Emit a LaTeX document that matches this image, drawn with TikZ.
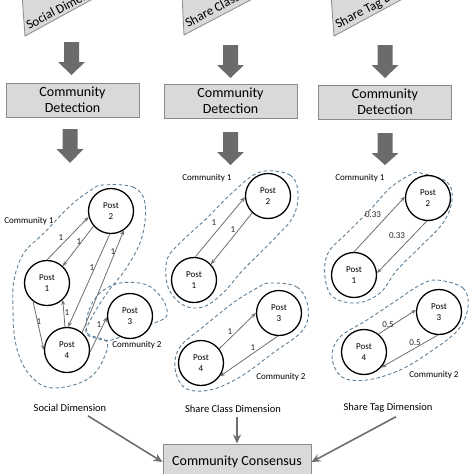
\documentclass[tikz,border=0pt]{standalone}
\usepackage{fontspec}
\setmainfont{Carlito}
\usetikzlibrary{arrows.meta}
\definecolor{boxfill}{HTML}{D9D9D9}
\definecolor{boxline}{HTML}{8A8A8A}
\definecolor{arrowgray}{HTML}{6B6B6B}
\definecolor{hullc}{HTML}{5E7E96}
\definecolor{edgec}{HTML}{6E6E6E}
\newcommand\blockarr[4]{\fill[blockarrow] (#1-7.5,#2) -- (#1+7.5,#2) -- (#1+7.5,#3) -- (#1+13.5,#3) -- (#1,#4) -- (#1-13.5,#3) -- (#1-7.5,#3) -- cycle;}
\begin{document}
\begin{tikzpicture}[x=1pt,y=-1pt,
  detbox/.style={draw=boxline, fill=boxfill, line width=1pt, minimum width=133pt, minimum height=34pt, align=center, font=\fontsize{14}{16}\selectfont, inner sep=0pt},
  post/.style={circle, draw=black, line width=1.3pt, minimum size=45pt, inner sep=0pt, align=center, font=\fontsize{9}{11}\selectfont},
  edge/.style={draw=edgec, line width=0.8pt, -{Stealth[length=5pt,width=4pt]}},
  lbl/.style={font=\fontsize{9}{10}\selectfont, inner sep=0pt, text=black!85},
  hull/.style={draw=hullc, dash pattern=on 3.5pt off 2.5pt, line width=0.9pt},
  blockarrow/.style={fill=arrowgray},
  dimlbl/.style={font=\fontsize{10.5}{12}\selectfont, inner sep=1pt},
  comlbl/.style={font=\fontsize{9}{10}\selectfont, inner sep=0pt},
  flow/.style={draw=edgec, line width=1.6pt, -{Stealth[length=9pt,width=8pt]}},
  topshape/.style={fill=boxfill, draw=boxline, line width=0.8pt},
  toptext/.style={font=\fontsize{13}{14}\selectfont, rotate=28, anchor=base west, inner sep=0pt},
]
\useasboundingbox (0,0) rectangle (474,474);
\clip (0,0) rectangle (474,474);

% top rotated shapes
\draw[topshape] (22,-5) -- (25,36) -- (100,-5) -- cycle;
\node[toptext] (t1) at (29,30) {Social Dimension};
\draw[topshape] (182,-5) -- (184,35) -- (260,-5) -- cycle;
\node[toptext] (t2) at (188,28) {Share Class Dimension};
\draw[topshape] (331,-5) -- (334,36) -- (410,-5) -- cycle;
\node[toptext] (t3) at (338,29) {Share Tag Dimension};

% block arrows
\blockarr{71.5}{42}{62}{75}
\blockarr{230.5}{45}{65}{78}
\blockarr{385}{45}{65}{78}

% community detection boxes
\node[detbox] (cd1) at (72.5,100) {Community\\Detection};
\node[detbox] (cd2) at (230.5,101) {Community\\Detection};
\node[detbox] (cd3) at (385,102) {Community\\Detection};

\blockarr{70}{129}{149}{163}
\blockarr{230.5}{132}{152}{165}
\blockarr{385}{133}{153}{165}

% hulls
\draw[hull] plot[smooth cycle, tension=0.6] coordinates {(103,185) (133,187) (145,203) (142,237) (127,267) (107,293) (92,317) (87,333) (107,342) (103,360) (93,375) (77,384) (53,388) (37,382) (23,365) (15,340) (13,310) (14,280) (24,253) (45,232) (70,206) (91,190)};
\draw[hull] plot[smooth cycle, tension=0.6] coordinates {(86,332) (89,310) (100,293) (120,283) (147,285) (163,300) (167,315) (157,322) (133,330) (112,340) (95,338)};
\draw[hull] plot[smooth cycle, tension=0.6] coordinates {(260,172) (290,175) (298,193) (293,217) (273,240) (243,270) (223,293) (203,307) (183,305) (168,287) (167,260) (180,243) (207,218) (233,192)};
\draw[hull] plot[smooth cycle, tension=0.6] coordinates {(270,283) (297,287) (308,307) (303,330) (273,353) (240,377) (210,390) (185,388) (175,368) (180,347) (203,327) (233,303) (257,288)};
\draw[hull] plot[smooth cycle, tension=0.6] coordinates {(420,173) (447,182) (452,200) (443,223) (420,247) (397,270) (380,293) (357,303) (333,297) (325,277) (328,253) (347,233) (370,210) (390,188) (410,175)};
\draw[hull] plot[smooth cycle, tension=0.6] coordinates {(437,280) (463,288) (468,307) (458,330) (430,352) (400,370) (367,380) (342,377) (332,357) (340,337) (367,320) (397,300) (420,285)};

% community labels
\node[comlbl] (g1c1) at (29,221) {Community 1};
\node[comlbl] (g1c2) at (137,345) {Community 2};
\node[comlbl] (g2c1) at (207,178) {Community 1};
\node[comlbl] (g2c2) at (281,377) {Community 2};
\node[comlbl] (g3c1) at (360,178) {Community 1};
\node[comlbl] (g3c2) at (434,375) {Community 2};

% posts
\node[post, fill=white] (a2) at (111,211) {Post\\2};
\node[post, fill=white] (a1) at (47,283) {Post\\1};
\node[post, fill=white] (a4) at (67,350) {Post\\4};
\node[post, fill=white] (a3) at (130,316) {Post\\3};
\node[post, fill=white] (b2) at (268,196) {Post\\2};
\node[post, fill=white] (b1) at (194,280) {Post\\1};
\node[post, fill=white] (b3) at (279,313) {Post\\3};
\node[post, fill=white] (b4) at (201,363) {Post\\4};
\node[post, fill=white] (c2) at (428,198) {Post\\2};
\node[post, fill=white] (c1) at (354,275) {Post\\1};
\node[post, fill=white] (c3) at (439,312) {Post\\3};
\node[post, fill=white] (c4) at (364,352) {Post\\4};

% edges graph 1
\draw[edge] (a1.90) -- (a2.195);
\draw[edge] (a2.221) -- (a1.47);
\draw[edge] (a2.267) -- (a4.87);
\draw[edge] (a4.49) -- (a2.304);
\draw[edge] (a1.233) -- (a4.180);
\draw[edge] (a4.95) -- (a1.313);
\draw[edge] (a4.355) -- (a3.183);
\node[lbl] (la1) at (61,238) {1};
\node[lbl] (la2) at (79,242) {1};
\node[lbl] (la3) at (92,268) {1};
\node[lbl] (la4) at (113,252) {1};
\node[lbl] (la5) at (39,322) {1};
\node[lbl] (la6) at (67,313) {1};
\node[lbl] (la7) at (99,325) {1};

% edges graph 2
\draw[edge] (b1.87) -- (b2.183);
\draw[edge] (b2.227) -- (b1.43);
\draw[edge] (b4.38) -- (b3.180);
\draw[edge] (b3.267) -- (b4.325);
\node[lbl] (lb1) at (214,223) {1};
\node[lbl] (lb2) at (233,230) {1};
\node[lbl] (lb3) at (230,332) {1};
\node[lbl] (lb4) at (253,348) {1};

% edges graph 3
\draw[edge] (c1.90) -- (c2.177);
\draw[edge] (c2.267) -- (c1.5);
\draw[edge] (c4.51) -- (c3.175);
\draw[edge] (c3.267) -- (c4.318);
\node[lbl] (lc1) at (373,215) {0.33};
\node[lbl] (lc2) at (397,236) {0.33};
\node[lbl] (lc3) at (388,325) {0.5};
\node[lbl] (lc4) at (415,343) {0.5};

% dimension labels
\node[dimlbl] (dl1) at (70,408) {Social Dimension};
\node[dimlbl] (dl2) at (233,409) {Share Class Dimension};
\node[dimlbl] (dl3) at (388,408) {Share Tag Dimension};

% consensus
\node[draw=boxline, fill=boxfill, line width=1pt, minimum width=148pt, minimum height=36pt, inner sep=0pt, font=\fontsize{14}{16}\selectfont] (cons) at (237,462) {Community Consensus};

\draw[flow] ([xshift=18pt,yshift=-3pt]dl1.south) -- (cons.west);
\draw[flow] ([xshift=4pt,yshift=-3pt]dl2.south) -- (cons.north);
\draw[flow] ([xshift=8pt,yshift=-3pt]dl3.south) -- (cons.east);
\end{tikzpicture}
\end{document}
